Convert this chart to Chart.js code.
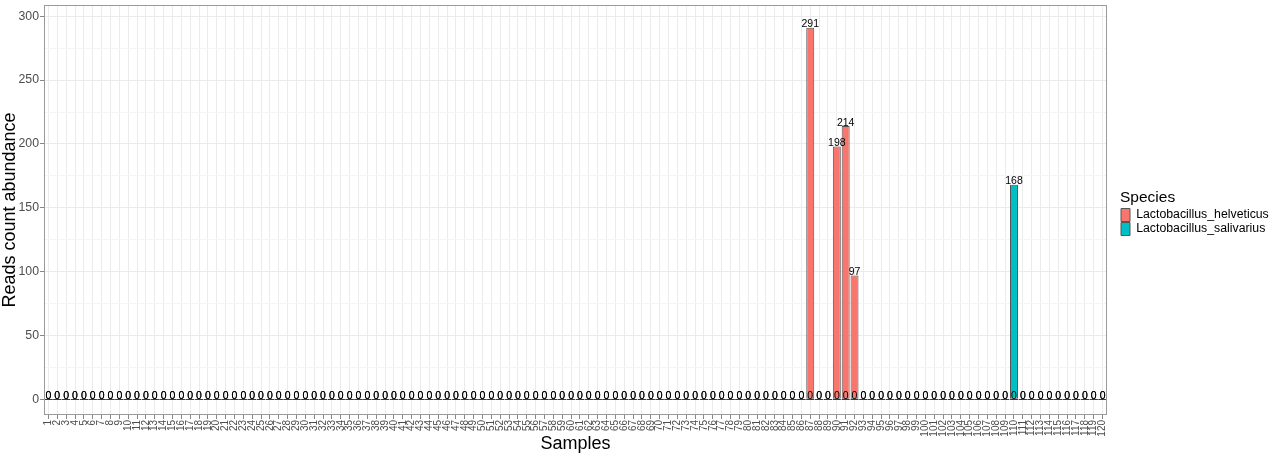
<!DOCTYPE html>
<html>
<head>
<meta charset="utf-8">
<script src="https://cdn.jsdelivr.net/npm/chart.js@4.4.1/dist/chart.umd.min.js"></script>
<style>
  html, body { margin: 0; padding: 0; background: #ffffff; }
  #wrap { width: 1271px; height: 455px; position: relative; }
</style>
</head>
<body>
<div id="wrap"><canvas id="c"></canvas></div>
<script>
// ---- data ----
const samples = Array.from({length: 120}, (_, i) => String(i + 1));
const species = ["Lactobacillus_helveticus", "Lactobacillus_salivarius"];
const helveticusNonZero = { "87": 291, "90": 198, "91": 214, "92": 97 };
const salivariusNonZero = { "110": 168 };
const helveticus = samples.map(s => helveticusNonZero[s] || 0);
const salivarius = samples.map(s => salivariusNonZero[s] || 0);
const yTicks = [0, 50, 100, 150, 200, 250, 300];
const colors = ["#F8766D", "#00BFC4"];

const FONT = "'Liberation Sans', Arial, sans-serif";

const ggPlugin = {
  id: 'gg',
  afterDatasetsDraw(chart) {
    const ctx = chart.ctx;
    const y = chart.scales.y;
    const y0 = y.getPixelForValue(0);
    ctx.save();
    // zero-height bars drawn as outline segments
    chart.data.datasets.forEach((ds, di) => {
      const meta = chart.getDatasetMeta(di);
      ds.data.forEach((v, i) => {
        if (v === 0) {
          const el = meta.data[i];
          ctx.strokeStyle = '#3a3a3a';
          ctx.lineWidth = 1;
          ctx.beginPath();
          ctx.moveTo(el.x - el.width / 2, Math.round(y0) + 0.5);
          ctx.lineTo(el.x + el.width / 2, Math.round(y0) + 0.5);
          ctx.stroke();
        }
      });
    });
    // value labels
    ctx.fillStyle = '#000';
    ctx.font = '10.5px ' + FONT;
    ctx.textAlign = 'center';
    ctx.textBaseline = 'alphabetic';
    chart.data.datasets.forEach((ds, di) => {
      const meta = chart.getDatasetMeta(di);
      ds.data.forEach((v, i) => {
        const el = meta.data[i];
        ctx.fillText(String(v), el.x, y.getPixelForValue(v) - 0.5);
      });
    });
    // panel border
    const a = chart.chartArea;
    ctx.strokeStyle = '#9a9a9a';
    ctx.lineWidth = 1;
    ctx.strokeRect(a.left + 0.5, a.top + 0.5, a.right - a.left - 1, a.bottom - a.top - 1);
    ctx.restore();
  }
};

new Chart(document.getElementById('c'), {
  type: 'bar',
  data: {
    labels: samples,
    datasets: [
      { label: species[0], data: helveticus, backgroundColor: colors[0], borderColor: '#555555', borderWidth: 1, borderSkipped: false },
      { label: species[1], data: salivarius, backgroundColor: colors[1], borderColor: '#555555', borderWidth: 1, borderSkipped: false }
    ]
  },
  options: {
    responsive: true,
    maintainAspectRatio: false,
    animation: false,
    devicePixelRatio: 1,
    layout: { padding: { left: 0, right: 0, top: 5, bottom: 0 } },
    datasets: { bar: { barPercentage: 0.9, categoryPercentage: 1.0 } },
    plugins: {
      tooltip: { enabled: false },
      legend: {
        position: 'right',
        align: 'center',
        fullSize: false,
        maxWidth: 151,
        title: { display: true, position: 'start', text: 'Species', color: '#000', font: { family: FONT, size: 15.5, lineHeight: 1.1 }, padding: { top: 6, bottom: 1 } },
        labels: {
          color: '#1a1a1a',
          font: { family: FONT, size: 12.3, lineHeight: 1.0 },
          boxWidth: 9,
          boxHeight: 13,
          padding: 1,
          generateLabels(chart) {
            return chart.data.datasets.map((ds, i) => ({
              text: ds.label, fillStyle: ds.backgroundColor, strokeStyle: '#555555', lineWidth: 1, datasetIndex: i, hidden: false
            }));
          }
        }
      }
    },
    scales: {
      x: {
        stacked: true,
        offset: true,
        afterFit: s => { s.height = 40; },
        grid: { offset: false, color: '#ebebeb', lineWidth: 1, tickLength: 4, tickColor: '#888', drawTicks: true },
        border: { display: false },
        ticks: {
          autoSkip: false, maxRotation: 90, minRotation: 90, padding: 1,
          color: '#4d4d4d', font: { family: FONT, size: 10 }
        },
        title: { display: true, text: 'Samples', color: '#000', font: { family: FONT, size: 18, lineHeight: 1.0 }, padding: { top: 1, bottom: 2 } }
      },
      y: {
        stacked: true,
        min: -12.3,
        max: 308.8,
        afterFit: s => { s.width = 44; s.paddingTop = 0; s.paddingBottom = 0; },
        grid: {
          color: ctx => (ctx.tick && ctx.tick.value % 50 === 0) ? '#ebebeb' : '#f5f5f5',
          tickColor: ctx => (ctx.tick && ctx.tick.value % 50 === 0) ? '#888' : 'rgba(0,0,0,0)',
          tickLength: 4
        },
        border: { display: false },
        ticks: {
          stepSize: 25,
          includeBounds: false,
          padding: 1,
          color: '#4d4d4d',
          font: { family: FONT, size: 12.3 },
          callback: v => yTicks.includes(v) ? String(v) : ''
        },
        title: { display: true, text: 'Reads count abundance', color: '#000', font: { family: FONT, size: 18, lineHeight: 1.0 }, padding: { top: 1, bottom: 0 } }
      },
      gap: {
        type: 'linear',
        position: 'right',
        display: true,
        afterFit: s => { s.width = 13; s.paddingTop = 0; s.paddingBottom = 0; },
        grid: { display: false, drawTicks: false },
        border: { display: false },
        ticks: { display: false }
      }
    }
  },
  plugins: [ggPlugin]
});
</script>
</body>
</html>
